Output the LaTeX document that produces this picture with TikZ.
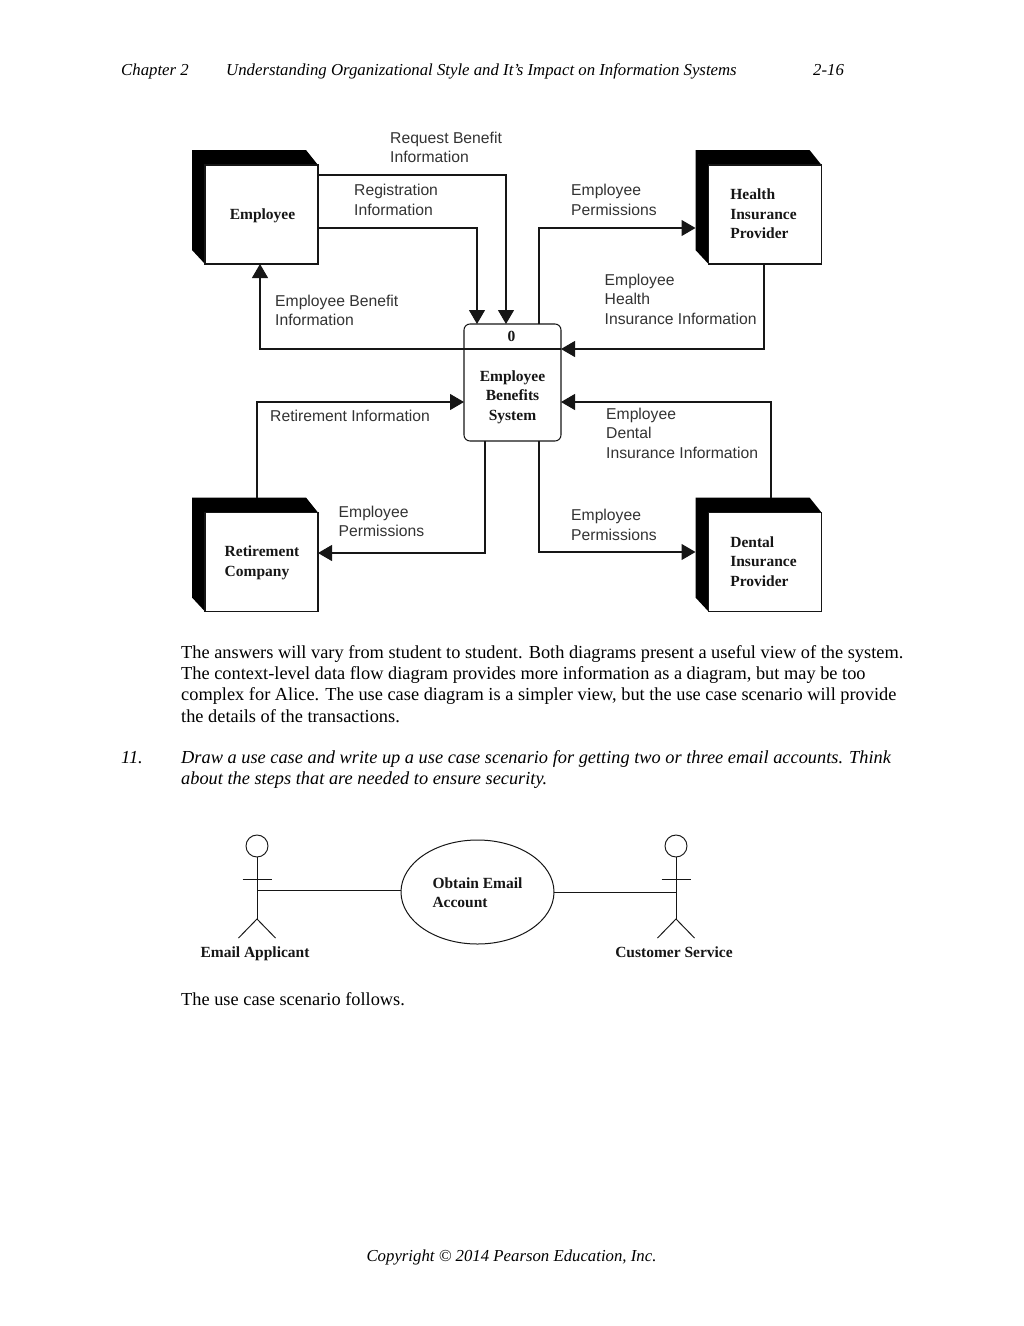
\documentclass[tikz,border=0pt]{standalone}
\usepackage{fontspec}
\setmainfont{Liberation Serif}
\newfontfamily\arialfont{Liberation Sans}
\usetikzlibrary{arrows.meta,shapes.geometric}
\definecolor{ink}{HTML}{161616}
\definecolor{labelgray}{HTML}{333333}
\tikzset{
  line/.style={draw=ink,line width=1.05pt},
  flow/.style={line,-{Triangle[length=14pt,width=16pt]}},
  front/.style={draw=ink,line width=1.05pt,fill=white,minimum width=113pt,minimum height=99pt,inner sep=0pt,outer sep=0pt},
  lab/.style={font=\arialfont\fontsize{15.7}{19.5}\selectfont,text=labelgray,align=left,anchor=north west,inner sep=0pt},
  bold/.style={font=\bfseries\fontsize{15.5}{19.5}\selectfont,text=ink,align=center,inner sep=0pt},
  boldl/.style={bold,align=left},
  page/.style={font=\fontsize{18.35}{21}\selectfont,text=black,anchor=base west,inner sep=0pt},
  pagei/.style={font=\itshape\fontsize{16.77}{20}\selectfont,text=black,anchor=base west,inner sep=0pt},
}
\newcommand{\extbox}[3]{% name, left, top
  \fill[black,shift={(#2,#3)}] (-13,-15) -- (101,-15) -- (113,0) -- (0,0) -- (0,99) -- (-13,85) -- cycle;
  \coordinate (#1back) at (#2-13,#3-15);
  \node[front] (#1) at (#2+56.5,#3+49.5) {};
}
\newcommand{\actor}[2]{% name, x
  \node[draw=ink,line width=0.95pt,circle,minimum size=22pt,inner sep=0pt,outer sep=0pt] (#1head) at (#2,846) {};
  \coordinate (#1cross) at (#2,879);
  \coordinate (#1fork) at (#2,919);
  \draw[line,line width=0.95pt] (#1head.south) -- (#1fork);
  \draw[line,line width=0.95pt] (#2-14.5,879) -- (#2+14.5,879);
  \draw[line,line width=0.95pt] (#2-18.5,938) -- (#1fork) -- (#2+18.5,938);
}
\begin{document}
\begin{tikzpicture}[x=1pt,y=-1pt]
\useasboundingbox (0,0) rectangle (1024,1326);
\fill[white] (0,0) rectangle (1024,1326);

% page header
\node[pagei] (h1) at (121,75) {Chapter 2};
\node[pagei] (h2) at (226,75) {Understanding Organizational Style and It’s Impact on Information Systems};
\node[pagei] (h3) at (813,75) {2-16};

% external entities
\extbox{emp}{205}{165}
\extbox{hlt}{708.5}{165}
\extbox{ret}{205}{512.5}
\extbox{den}{708.5}{512.5}

% process
\node[draw=ink,line width=1.05pt,fill=white,rounded corners=6pt,minimum width=97pt,minimum height=117pt,inner sep=0pt,outer sep=0pt] (sys) at (512.5,382.5) {};
\draw[line] (sys.west |- 0,349) -- (sys.east |- 0,349);

% flows
\draw[flow] (emp.east |- 0,175) -- (506,175) -- (506,0 |- sys.north);
\draw[flow] (emp.east |- 0,228) -- (477,228) -- (477,0 |- sys.north);
\draw[flow] (539,0 |- sys.north) -- (539,228) -- (hltback |- 0,228);
\draw[flow] (764,0 |- hlt.south) -- (764,349) -- (sys.east |- 0,349);
\draw[flow] (sys.west |- 0,349) -- (260,349) -- (260,0 |- emp.south);
\draw[flow] (257,0 |- retback) -- (257,402) -- (sys.west |- 0,402);
\draw[flow] (485,0 |- sys.south) -- (485,553) -- (ret.east |- 0,553);
\draw[flow] (771,0 |- denback) -- (771,402) -- (sys.east |- 0,402);
\draw[flow] (539,0 |- sys.south) -- (539,552) -- (denback |- 0,552);

% entity and process texts
\node[bold] (temp) at (262.5,216) {Employee};
\node[boldl] (thlt) at (763.5,214) {Health\\Insurance\\Provider};
\node[boldl] (tret) at (262,563) {Retirement\\Company};
\node[boldl] (tden) at (763.5,561.5) {Dental\\Insurance\\Provider};
\node[bold] (tzero) at (511.5,336.5) {0};
\node[bold] (tsys) at (512.5,397) {Employee\\Benefits\\System};

% flow labels
\node[lab] (l1) at (390,131.5) {Request Benefit\\Information};
\node[lab] (l2) at (354,184) {Registration\\Information};
\node[lab] (l3) at (571,184) {Employee\\Permissions};
\node[lab] (l4) at (604.5,273.5) {Employee\\Health\\Insurance Information};
\node[lab] (l5) at (275,294.5) {Employee Benefit\\Information};
\node[lab] (l6) at (270,410) {Retirement Information};
\node[lab] (l7) at (606,407.5) {Employee\\Dental\\Insurance Information};
\node[lab] (l8) at (338.5,505.5) {Employee\\Permissions};
\node[lab] (l9) at (571,509) {Employee\\Permissions};

% body text
\node[page] (b1) at (181,658) {The answers will vary from student to student. Both diagrams present a useful view of the system.};
\node[page] (b2) at (181,679) {The context-level data flow diagram provides more information as a diagram, but may be too};
\node[page] (b3) at (181,700) {complex for Alice. The use case diagram is a simpler view, but the use case scenario will provide};
\node[page] (b4) at (181,722) {the details of the transactions.};
\node[page,font=\itshape\fontsize{18.35}{21}\selectfont] (q0) at (121,763) {11.};
\node[page,font=\itshape\fontsize{18.35}{21}\selectfont] (q1) at (181,763) {Draw a use case and write up a use case scenario for getting two or three email accounts. Think};
\node[page,font=\itshape\fontsize{18.35}{21}\selectfont] (q2) at (181,784) {about the steps that are needed to ensure security.};

% use case
\actor{a}{257}
\actor{c}{676}
\node[draw=ink,line width=1pt,ellipse,minimum width=153pt,minimum height=104pt,inner sep=0pt,outer sep=0pt,fill=white] (uc) at (477.5,892) {};
\node[boldl] (tuc) at (477.5,892.5) {Obtain Email\\Account};
\coordinate (ahip) at (257,890);
\coordinate (chip) at (676,892);
\draw[line,line width=1pt] (ahip) -- (uc.west |- ahip);
\draw[line,line width=1pt] (uc.east |- chip) -- (chip);
\node[bold] (ta) at (255,954) {Email Applicant};
\node[bold] (tc) at (674,952) {Customer Service};

\node[page] (b5) at (181,1005) {The use case scenario follows.};

% footer
\node[pagei,anchor=base] (f1) at (511.5,1261) {Copyright © 2014 Pearson Education, Inc.};
\end{tikzpicture}
\end{document}
